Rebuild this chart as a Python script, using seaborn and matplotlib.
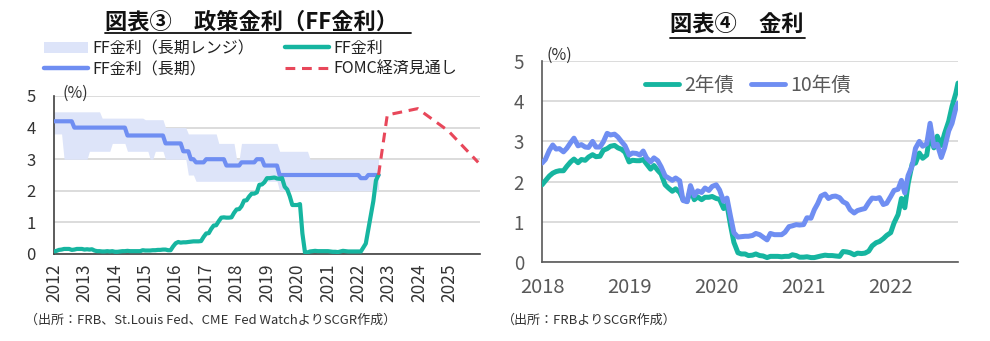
import numpy as np
import pandas as pd
import matplotlib
matplotlib.use("Agg")
import matplotlib.pyplot as plt
import matplotlib.dates as mdates
from matplotlib.lines import Line2D
from matplotlib.patches import Patch
import seaborn as sns

sns.set_style("white")
plt.rcParams["font.family"] = ["Noto Sans CJK JP", "DejaVu Sans"]

# ---------------- Left chart data (monthly, Jan 2012 - Sep 2022) ----------------
ff_rate = [
    0.08, 0.10, 0.13, 0.14, 0.16, 0.16, 0.16, 0.13, 0.14, 0.16, 0.16, 0.16,
    0.14, 0.15, 0.14, 0.15, 0.11, 0.09, 0.09, 0.08, 0.08, 0.09, 0.08, 0.09,
    0.07, 0.07, 0.08, 0.09, 0.09, 0.10, 0.09, 0.09, 0.09, 0.09, 0.09, 0.12,
    0.11, 0.11, 0.11, 0.12, 0.12, 0.13, 0.13, 0.14, 0.14, 0.12, 0.12, 0.24,
    0.34, 0.38, 0.36, 0.37, 0.37, 0.38, 0.39, 0.40, 0.40, 0.40, 0.41, 0.54,
    0.65, 0.66, 0.79, 0.90, 0.91, 1.04, 1.15, 1.16, 1.15, 1.15, 1.16, 1.30,
    1.41, 1.42, 1.51, 1.69, 1.70, 1.82, 1.91, 1.91, 1.95, 2.19, 2.20, 2.27,
    2.40, 2.40, 2.41, 2.42, 2.39, 2.38, 2.40, 2.13, 2.04, 1.83, 1.55, 1.55,
    1.55, 1.58, 0.65, 0.05, 0.05, 0.08, 0.09, 0.10, 0.09, 0.09, 0.09, 0.09,
    0.09, 0.08, 0.07, 0.07, 0.06, 0.08, 0.10, 0.09, 0.08, 0.08, 0.08, 0.08,
    0.08, 0.08, 0.20, 0.33, 0.77, 1.21, 1.68, 2.33, 2.50,
]
lr_median = [
    4.2, 4.2, 4.2, 4.2, 4.2, 4.2, 4.2, 4.2, 4.0, 4.0, 4.0, 4.0,
    4.0, 4.0, 4.0, 4.0, 4.0, 4.0, 4.0, 4.0, 4.0, 4.0, 4.0, 4.0,
    4.0, 4.0, 4.0, 4.0, 4.0, 3.75, 3.75, 3.75, 3.75, 3.75, 3.75, 3.75,
    3.75, 3.75, 3.75, 3.75, 3.75, 3.75, 3.75, 3.75, 3.5, 3.5, 3.5, 3.5,
    3.5, 3.5, 3.5, 3.25, 3.25, 3.25, 3.0, 3.0, 2.9, 2.9, 2.9, 2.9,
    3.0, 3.0, 3.0, 3.0, 3.0, 3.0, 3.0, 3.0, 2.8, 2.8, 2.8, 2.8,
    2.8, 2.8, 2.9, 2.9, 2.9, 2.9, 2.9, 2.9, 3.0, 3.0, 3.0, 2.8,
    2.8, 2.8, 2.8, 2.8, 2.8, 2.5, 2.5, 2.5, 2.5, 2.5, 2.5, 2.5,
    2.5, 2.5, 2.5, 2.5, 2.5, 2.5, 2.5, 2.5, 2.5, 2.5, 2.5, 2.5,
    2.5, 2.5, 2.5, 2.5, 2.5, 2.5, 2.5, 2.5, 2.5, 2.5, 2.5, 2.5,
    2.5, 2.4, 2.4, 2.4, 2.5, 2.5, 2.5, 2.5, 2.5,
]
lr_upper = [
    4.5, 4.5, 4.5, 4.5, 4.5, 4.5, 4.5, 4.5, 4.5, 4.5, 4.5, 4.5,
    4.5, 4.5, 4.5, 4.5, 4.5, 4.5, 4.5, 4.3, 4.3, 4.3, 4.3, 4.3,
    4.3, 4.3, 4.3, 4.3, 4.3, 4.3, 4.3, 4.3, 4.3, 4.3, 4.3, 4.3,
    4.25, 4.25, 4.25, 4.25, 4.25, 4.25, 4.25, 4.25, 4.0, 4.0, 4.0, 4.0,
    4.0, 4.0, 4.0, 4.0, 4.0, 3.8, 3.8, 3.8, 3.8, 3.8, 3.8, 3.8,
    3.8, 3.8, 3.8, 3.8, 3.8, 3.5, 3.5, 3.5, 3.5, 3.5, 3.5, 3.5,
    3.0, 3.0, 3.5, 3.5, 3.5, 3.5, 3.5, 3.5, 3.5, 3.5, 3.5, 3.5,
    3.5, 3.5, 3.5, 3.5, 3.5, 3.25, 3.25, 3.25, 3.25, 3.25, 3.25, 3.25,
    3.25, 3.25, 3.25, 3.25, 3.25, 3.0, 3.0, 3.0, 3.0, 3.0, 3.0, 3.0,
    3.0, 3.0, 3.0, 3.0, 3.0, 3.0, 3.0, 3.0, 3.0, 3.0, 3.0, 3.0,
    3.0, 3.0, 3.0, 3.0, 3.0, 3.0, 3.0, 3.0, 3.0,
]
lr_lower = [
    3.8, 3.8, 3.8, 3.8, 3.0, 3.0, 3.0, 3.0, 3.0, 3.0, 3.0, 3.0,
    3.0, 3.0, 3.25, 3.25, 3.25, 3.25, 3.25, 3.25, 3.25, 3.25, 3.25, 3.5,
    3.5, 3.5, 3.5, 3.5, 3.5, 3.25, 3.25, 3.25, 3.25, 3.25, 3.25, 3.25,
    3.25, 3.25, 3.0, 3.0, 3.25, 3.25, 3.25, 3.25, 3.0, 3.0, 3.0, 3.0,
    3.0, 3.0, 3.0, 3.0, 3.0, 2.5, 2.5, 2.5, 2.3, 2.3, 2.3, 2.3,
    2.3, 2.3, 2.3, 2.3, 2.3, 2.3, 2.3, 2.3, 2.3, 2.3, 2.3, 2.3,
    2.3, 2.3, 2.3, 2.3, 2.3, 2.3, 2.3, 2.3, 2.3, 2.3, 2.3, 2.3,
    2.3, 2.3, 2.3, 2.3, 2.3, 2.0, 2.0, 2.0, 2.0, 2.0, 2.0, 2.0,
    2.0, 2.0, 2.0, 2.0, 2.0, 2.0, 2.0, 2.0, 2.0, 2.0, 2.0, 2.0,
    2.0, 2.0, 2.0, 2.0, 2.0, 2.0, 2.0, 2.0, 2.0, 2.0, 2.0, 2.0,
    2.0, 2.0, 2.0, 2.0, 2.0, 2.0, 2.0, 2.0, 2.0,
]
fomc_dates = ["2022-09-01", "2022-12-15", "2023-12-15", "2024-12-15", "2025-12-10"]
fomc_rate = [2.50, 4.4, 4.6, 3.9, 2.9]

# ---------------- Right chart data (semi-monthly, Jan 2018 - Oct 2022) ----------------
y2_rate = [
    1.92, 2.02, 2.14, 2.21, 2.25, 2.27, 2.27, 2.38, 2.49, 2.56, 2.47, 2.55,
    2.53, 2.61, 2.67, 2.62, 2.63, 2.78, 2.82, 2.88, 2.90, 2.84, 2.80, 2.73,
    2.49, 2.53, 2.52, 2.52, 2.55, 2.44, 2.31, 2.40, 2.28, 2.19, 1.92, 1.84,
    1.76, 1.82, 1.73, 1.55, 1.51, 1.80, 1.55, 1.62, 1.55, 1.61, 1.61, 1.63,
    1.58, 1.56, 1.33, 1.43, 0.91, 0.49, 0.23, 0.20, 0.20, 0.16, 0.17, 0.20,
    0.16, 0.15, 0.11, 0.14, 0.14, 0.14, 0.13, 0.14, 0.14, 0.18, 0.16, 0.12,
    0.12, 0.13, 0.11, 0.11, 0.13, 0.15, 0.17, 0.16, 0.16, 0.15, 0.14, 0.26,
    0.25, 0.23, 0.18, 0.22, 0.21, 0.22, 0.27, 0.40, 0.48, 0.51, 0.58, 0.66,
    0.73, 0.97, 1.18, 1.58, 1.35, 1.95, 2.44, 2.46, 2.71, 2.58, 2.66, 3.20,
    2.84, 3.13, 2.90, 3.20, 3.50, 3.87, 4.20, 4.45,
]
y10_rate = [
    2.46, 2.55, 2.78, 2.91, 2.81, 2.82, 2.74, 2.83, 2.97, 3.08, 2.89, 2.92,
    2.86, 2.85, 3.00, 2.86, 2.86, 2.99, 3.20, 3.16, 3.18, 3.11, 2.99, 2.89,
    2.66, 2.71, 2.70, 2.66, 2.76, 2.59, 2.49, 2.59, 2.52, 2.37, 2.14, 2.09,
    2.03, 2.09, 2.02, 1.53, 1.50, 1.90, 1.65, 1.77, 1.73, 1.84, 1.78, 1.88,
    1.92, 1.79, 1.51, 1.59, 1.13, 0.73, 0.62, 0.63, 0.64, 0.64, 0.66, 0.71,
    0.68, 0.62, 0.55, 0.71, 0.68, 0.68, 0.68, 0.74, 0.88, 0.90, 0.93, 0.92,
    0.93, 1.10, 1.09, 1.30, 1.45, 1.64, 1.69, 1.58, 1.63, 1.64, 1.60, 1.50,
    1.45, 1.30, 1.22, 1.28, 1.31, 1.33, 1.48, 1.59, 1.58, 1.60, 1.43, 1.46,
    1.63, 1.78, 1.81, 2.03, 1.72, 2.15, 2.39, 2.83, 3.00, 2.88, 2.94, 3.45,
    2.88, 2.93, 2.60, 2.84, 3.26, 3.45, 3.83, 3.95,
]

TEAL = "#16B5A0"
BLUE = "#6F8EF2"
BAND = "#DDE4F9"
RED = "#E8475A"
GRID = "#D9D9D9"

month_dates = pd.date_range("2012-01-01", periods=len(ff_rate), freq="MS")
left_df = pd.DataFrame({"date": month_dates, "ff": ff_rate, "median": lr_median,
                        "upper": lr_upper, "lower": lr_lower})
fomc_df = pd.DataFrame({"date": pd.to_datetime(fomc_dates), "rate": fomc_rate})

semi_dates = list(pd.date_range("2018-01-01", "2022-10-01", freq="SMS")) + [pd.Timestamp("2022-10-10")]
right_df = pd.DataFrame({"date": semi_dates, "y2": y2_rate, "y10": y10_rate})

fig = plt.figure(figsize=(9.9, 3.41), dpi=100)
W, H = 990, 341

def fx(px):
    return px / W

def fy(py):
    return 1 - py / H

# ---------------- Left axes ----------------
axL = fig.add_axes([fx(54), fy(254), fx(480 - 54), (254 - 96) / H])
axL.fill_between(left_df["date"], left_df["lower"], left_df["upper"],
                 color=BAND, linewidth=0, zorder=1)
sns.lineplot(data=left_df, x="date", y="median", ax=axL, color=BLUE,
             linewidth=3.0, estimator=None, zorder=3)
sns.lineplot(data=left_df, x="date", y="ff", ax=axL, color=TEAL,
             linewidth=3.0, estimator=None, zorder=4)
sns.lineplot(data=fomc_df, x="date", y="rate", ax=axL, color=RED,
             linewidth=2.2, estimator=None, zorder=4, dashes=False)
axL.lines[-1].set_linestyle((0, (3.2, 2.2)))
axL.set_xlim(pd.Timestamp("2012-01-01"), pd.Timestamp("2026-01-01"))
axL.set_ylim(0, 5)
axL.set_yticks([0, 1, 2, 3, 4, 5])
axL.yaxis.grid(True, color=GRID, linewidth=1.3)
axL.set_axisbelow(True)
axL.set_xticks([pd.Timestamp(f"{y}-01-01") for y in range(2012, 2027)])
axL.set_xticklabels([str(y) for y in range(2012, 2026)] + [""])
axL.tick_params(axis="x", direction="in", length=5, width=1.2, colors="#333333",
                labelsize=12.5, pad=7, labelrotation=90)
axL.tick_params(axis="y", direction="in", length=5, width=1.2, colors="#333333",
                labelsize=12, pad=13)
axL.set_xlabel("")
axL.set_ylabel("")
for s in ["top", "right"]:
    axL.spines[s].set_visible(False)
for s in ["left", "bottom"]:
    axL.spines[s].set_color("#404040")
    axL.spines[s].set_linewidth(1.2)

# ---------------- Right axes ----------------
axR = fig.add_axes([fx(542), fy(262), fx(958 - 542), (262 - 61) / H])
sns.lineplot(data=right_df, x="date", y="y2", ax=axR, color=TEAL,
             linewidth=3.6, estimator=None, zorder=3, label="2年債")
sns.lineplot(data=right_df, x="date", y="y10", ax=axR, color=BLUE,
             linewidth=3.6, estimator=None, zorder=4, label="10年債")
axR.set_xlim(pd.Timestamp("2018-01-01"), right_df["date"].iloc[-1])
axR.set_ylim(0, 5)
axR.set_yticks([0, 1, 2, 3, 4, 5])
axR.yaxis.grid(True, color=GRID, linewidth=1.3)
axR.set_axisbelow(True)
axR.set_xticks([pd.Timestamp(f"{y}-01-01") for y in range(2018, 2023)])
axR.set_xticklabels([str(y) for y in range(2018, 2023)])
axR.tick_params(axis="x", direction="in", length=7, width=1.2, colors="#595959",
                labelsize=14.5, pad=11)
axR.tick_params(axis="y", direction="in", length=7, width=1.2, colors="#595959",
                labelsize=13.5, pad=13)
axR.set_xlabel("")
axR.set_ylabel("")
for s in ["top", "right"]:
    axR.spines[s].set_visible(False)
for s in ["left", "bottom"]:
    axR.spines[s].set_color("#595959")
    axR.spines[s].set_linewidth(1.2)
legR = axR.legend(loc="upper center", bbox_to_anchor=(0.495, 0.97), ncol=2,
                  frameon=False, fontsize=14, handlelength=1.75,
                  handletextpad=0.25, columnspacing=0.9, borderaxespad=0)
for t in legR.get_texts():
    t.set_color("#595959")
for h in legR.legend_handles:
    h.set_linewidth(3.5)

# ---------------- Left legend (outside, above axes) ----------------
handles = [Patch(facecolor=BAND, edgecolor="none"),
           Line2D([], [], color=BLUE, linewidth=3.2),
           Line2D([], [], color=TEAL, linewidth=3.2),
           Line2D([], [], color=RED, linewidth=2.2, linestyle=(0, (3.2, 2.2)))]
labels = ["FF金利（長期レンジ）", "FF金利（長期）", "FF金利", "FOMC経済見通し"]
legL = fig.legend(handles, labels, loc="upper left", bbox_to_anchor=(fx(44), fy(40)),
                  ncol=2, frameon=False, fontsize=11.5, handlelength=2.75,
                  handletextpad=0.3, columnspacing=1.9, labelspacing=0.25,
                  borderaxespad=0, borderpad=0)
for t in legL.get_texts():
    t.set_color("#222222")

# ---------------- Titles, units, notes ----------------
tL = fig.text(fx(252), fy(22), "図表③　政策金利（FF金利）", ha="center", va="center",
              fontsize=16, fontweight="bold", color="#111111")
tR = fig.text(fx(737), fy(25), "図表④　金利", ha="center", va="center",
              fontsize=16, fontweight="bold", color="#111111")
fig.text(fx(62), fy(93), "(%)", ha="left", va="center", fontsize=11.5, color="#333333")
fig.text(fx(547), fy(55), "(%)", ha="left", va="center", fontsize=11.5, color="#333333")
fig.text(fx(25), fy(320), "（出所：FRB、St.Louis Fed、CME  Fed WatchよりSCGR作成）",
         ha="left", va="center", fontsize=9.4, color="#333333")
fig.text(fx(502), fy(320), "（出所：FRBよりSCGR作成）",
         ha="left", va="center", fontsize=9.4, color="#333333")

# underline for titles
fig.canvas.draw()
r = fig.canvas.get_renderer()
for t, extra, ypx in [(tL, 12, 33), (tR, 1, 38)]:
    bb = t.get_window_extent(r)
    fig.add_artist(Line2D([bb.x0 / W, (bb.x1 + extra) / W], [fy(ypx), fy(ypx)],
                          transform=fig.transFigure, color="#111111", linewidth=1.3))

fig.savefig("out.png", dpi=100)
